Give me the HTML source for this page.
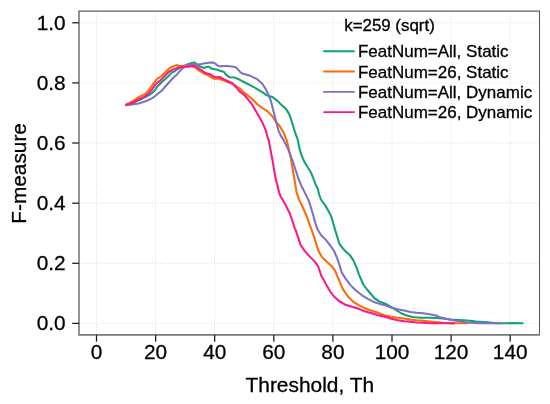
<!DOCTYPE html><html><head><meta charset="utf-8"><title>F-measure vs Threshold</title>
<style>html,body{margin:0;padding:0;background:#fff;}svg{display:block}text{font-family:"Liberation Sans",Arial,sans-serif;fill:#000;stroke:#000;stroke-width:0.3px}</style></head><body>
<svg width="550" height="404" viewBox="0 0 550 404">
<rect width="550" height="404" fill="#fff"/>
<g stroke="#dcdcdc" stroke-width="1" stroke-dasharray="1,1.7" fill="none">
<line x1="96.5" y1="11.1" x2="96.5" y2="334.9"/>
<line x1="155.6" y1="11.1" x2="155.6" y2="334.9"/>
<line x1="214.7" y1="11.1" x2="214.7" y2="334.9"/>
<line x1="273.8" y1="11.1" x2="273.8" y2="334.9"/>
<line x1="332.9" y1="11.1" x2="332.9" y2="334.9"/>
<line x1="392.0" y1="11.1" x2="392.0" y2="334.9"/>
<line x1="451.1" y1="11.1" x2="451.1" y2="334.9"/>
<line x1="510.2" y1="11.1" x2="510.2" y2="334.9"/>
<line x1="79.0" y1="323.4" x2="539.5" y2="323.4"/>
<line x1="79.0" y1="263.3" x2="539.5" y2="263.3"/>
<line x1="79.0" y1="203.2" x2="539.5" y2="203.2"/>
<line x1="79.0" y1="143.0" x2="539.5" y2="143.0"/>
<line x1="79.0" y1="82.9" x2="539.5" y2="82.9"/>
<line x1="79.0" y1="22.8" x2="539.5" y2="22.8"/>
</g>
<g fill="none" stroke-width="2.05" stroke-linejoin="round" stroke-linecap="round">
<path stroke="#12A074" d="M126.2,105.0 L132.4,103.6 L138.6,100.2 L144.8,97.4 L148.5,95.3 L152.2,92.8 L155.3,89.7 L157.2,86.6 L159.7,84.2 L162.1,81.7 L165.8,78.6 L169.6,74.9 L172.0,72.4 L175.0,71.2 L176.2,69.8 L179.3,68.0 L182.4,66.7 L185.5,65.5 L188.6,63.9 L191.7,63.0 L194.2,62.4 L196.0,63.6 L197.9,65.5 L201.0,66.7 L204.1,68.0 L207.2,66.7 L209.0,66.7 L211.5,68.6 L214.6,69.2 L217.7,69.8 L220.8,71.1 L223.7,71.7 L226.2,74.8 L229.9,77.3 L234.9,77.6 L239.8,79.8 L244.8,82.5 L251.0,85.7 L257.2,89.1 L263.4,92.8 L266.0,95.0 L272.2,96.9 L277.2,100.6 L282.1,105.5 L285.8,108.6 L288.9,113.6 L290.8,118.5 L292.7,124.7 L295.0,132.2 L297.8,140.0 L299.0,146.2 L300.9,153.6 L304.0,161.1 L307.7,167.3 L310.8,172.2 L313.3,178.4 L315.8,185.0 L317.7,188.7 L319.3,195.0 L321.2,200.0 L324.9,204.9 L328.6,211.1 L331.1,216.1 L333.0,222.3 L335.4,230.9 L337.1,236.2 L338.9,242.4 L341.0,246.2 L344.7,250.5 L349.7,254.9 L353.4,260.4 L356.5,267.3 L359.0,274.7 L361.4,280.0 L363.3,284.5 L367.1,289.5 L370.9,294.0 L374.7,298.5 L379.8,301.6 L384.9,303.5 L391.4,307.2 L397.7,311.0 L401.5,313.5 L406.6,315.5 L413.0,317.1 L420.6,317.7 L428.3,317.7 L435.9,318.0 L442.3,318.6 L451.0,319.6 L467.3,320.4 L476.4,321.5 L487.3,322.2 L494.5,323.1 L522.7,323.2"/>
<path stroke="#FF6A00" d="M126.2,104.4 L132.4,101.5 L138.6,97.2 L144.8,94.1 L148.5,90.4 L152.2,85.4 L155.3,81.1 L157.2,78.6 L159.7,77.3 L162.1,75.5 L165.8,71.8 L169.6,68.1 L172.0,66.8 L175.0,65.6 L176.2,65.1 L179.3,66.1 L182.4,65.9 L185.5,65.5 L188.6,65.9 L191.7,66.1 L194.8,67.3 L197.9,69.8 L201.0,71.7 L204.1,73.5 L207.2,74.8 L210.3,76.6 L213.4,78.7 L216.5,78.5 L219.6,79.1 L223.7,80.4 L227.4,82.0 L232.4,83.7 L236.1,86.0 L239.8,88.5 L243.5,92.2 L247.4,95.0 L252.4,99.3 L257.3,104.3 L262.3,108.0 L267.3,111.1 L272.2,116.1 L275.9,121.6 L279.7,126.0 L283.4,132.2 L285.8,138.4 L286.6,140.0 L288.5,147.4 L290.4,156.1 L292.2,166.0 L294.1,177.2 L295.4,185.0 L296.6,192.4 L299.1,199.9 L302.8,207.3 L306.6,216.0 L309.7,224.7 L311.7,230.0 L314.2,237.4 L316.6,244.9 L318.5,251.1 L321.6,256.6 L326.6,261.6 L331.5,265.9 L335.2,270.9 L337.7,277.1 L339.1,280.0 L341.0,285.1 L343.5,290.2 L348.0,296.5 L353.1,301.6 L358.2,304.8 L364.5,308.0 L370.9,310.5 L377.3,312.5 L383.6,315.0 L390.0,316.5 L397.7,317.7 L404.1,318.6 L410.5,319.5 L416.8,320.3 L423.2,320.8 L429.5,321.4 L435.9,322.1 L442.3,322.7 L448.6,323.1 L467.0,323.2"/>
<path stroke="#7B70C4" d="M126.2,105.2 L132.4,104.6 L138.6,103.4 L144.8,101.5 L148.5,100.0 L152.2,98.1 L155.3,96.0 L157.2,94.3 L159.7,92.2 L162.1,90.4 L165.8,86.0 L169.6,81.7 L172.0,79.2 L175.0,76.1 L176.2,75.4 L179.3,71.7 L182.4,68.6 L185.5,66.1 L188.6,64.9 L191.7,64.6 L194.8,64.8 L197.9,64.4 L201.0,64.1 L204.1,63.5 L207.2,62.9 L210.3,62.6 L213.4,62.6 L215.2,63.5 L217.7,65.6 L219.6,66.4 L222.7,66.0 L226.2,66.0 L232.4,66.4 L236.1,67.4 L239.8,71.7 L242.3,73.6 L246.0,74.6 L251.0,76.1 L257.2,79.2 L262.1,83.5 L265.8,89.1 L268.5,95.0 L271.0,101.2 L272.8,108.6 L274.7,116.1 L276.6,123.5 L278.4,130.3 L280.9,135.9 L283.5,140.0 L287.3,147.4 L290.4,154.9 L293.5,163.5 L295.9,171.0 L298.4,178.4 L301.0,185.0 L304.7,192.4 L308.4,199.9 L310.9,207.3 L313.4,216.0 L315.8,224.7 L317.9,230.0 L321.0,235.0 L325.9,239.9 L329.9,245.0 L334.2,251.2 L337.3,258.6 L339.8,266.0 L341.6,272.2 L345.4,278.4 L350.5,285.1 L355.6,290.2 L362.0,295.3 L368.4,299.1 L374.7,302.3 L381.1,304.2 L386.2,305.5 L391.4,307.8 L397.7,309.3 L404.1,310.6 L410.5,311.9 L416.8,312.7 L423.2,313.2 L429.5,314.2 L435.9,315.5 L440.0,317.3 L447.3,319.1 L454.5,320.4 L461.8,321.8 L469.0,322.7 L476.4,323.1 L501.8,323.2"/>
<path stroke="#FF1588" d="M126.2,104.9 L132.4,102.8 L138.6,99.4 L144.8,96.6 L148.5,93.5 L152.2,89.1 L155.3,84.8 L157.2,82.9 L159.7,81.1 L162.1,78.6 L165.8,74.9 L169.6,71.2 L172.0,70.2 L175.0,68.7 L176.2,68.6 L179.3,67.6 L182.4,66.7 L185.5,66.7 L188.6,66.7 L191.7,66.1 L194.8,66.1 L197.9,68.0 L201.0,69.8 L204.1,72.3 L207.2,73.5 L210.3,74.2 L213.4,76.6 L216.5,77.3 L219.6,77.0 L223.7,79.2 L227.4,81.0 L232.4,83.3 L236.1,87.2 L239.8,91.6 L244.3,95.0 L247.4,98.7 L252.4,104.9 L257.3,113.6 L262.3,122.3 L266.0,130.9 L267.9,138.4 L268.7,140.0 L270.5,149.9 L272.4,159.8 L274.3,171.0 L276.1,180.9 L277.4,185.0 L278.7,191.2 L280.5,196.2 L284.9,203.6 L289.8,213.5 L292.9,222.2 L294.8,228.4 L295.6,230.0 L298.1,237.4 L300.5,244.9 L304.9,251.1 L309.8,256.6 L314.8,261.6 L317.9,265.9 L319.7,270.9 L321.6,276.5 L323.8,280.0 L326.4,285.1 L330.2,291.5 L334.0,296.5 L339.1,301.0 L345.5,304.8 L351.8,306.7 L358.2,308.6 L364.5,311.2 L370.9,313.1 L377.3,315.0 L383.6,316.5 L387.5,317.6 L391.4,318.7 L397.7,320.2 L404.1,321.2 L410.5,321.8 L416.8,322.5 L423.2,322.8 L429.5,323.2 L454.2,323.2"/>
</g>
<path d="M79.0,11.1 H539.5 V334.9" fill="none" stroke="#5c5c5c" stroke-width="1.05"/>
<path d="M79.0,10.6 V334.9 H540.0" fill="none" stroke="#787878" stroke-width="1.6"/>
<g stroke="#1a1a1a" stroke-width="1.25">
<line x1="96.5" y1="334.9" x2="96.5" y2="341.7"/>
<line x1="155.6" y1="334.9" x2="155.6" y2="341.7"/>
<line x1="214.7" y1="334.9" x2="214.7" y2="341.7"/>
<line x1="273.8" y1="334.9" x2="273.8" y2="341.7"/>
<line x1="332.9" y1="334.9" x2="332.9" y2="341.7"/>
<line x1="392.0" y1="334.9" x2="392.0" y2="341.7"/>
<line x1="451.1" y1="334.9" x2="451.1" y2="341.7"/>
<line x1="510.2" y1="334.9" x2="510.2" y2="341.7"/>
<line x1="72.2" y1="323.4" x2="79.0" y2="323.4"/>
<line x1="72.2" y1="263.3" x2="79.0" y2="263.3"/>
<line x1="72.2" y1="203.2" x2="79.0" y2="203.2"/>
<line x1="72.2" y1="143.0" x2="79.0" y2="143.0"/>
<line x1="72.2" y1="82.9" x2="79.0" y2="82.9"/>
<line x1="72.2" y1="22.8" x2="79.0" y2="22.8"/>
</g>
<g font-size="20.8" text-anchor="middle">
<text x="96.5" y="359.3">0</text>
<text x="155.6" y="359.3">20</text>
<text x="214.7" y="359.3">40</text>
<text x="273.8" y="359.3">60</text>
<text x="332.9" y="359.3">80</text>
<text x="392.0" y="359.3">100</text>
<text x="451.1" y="359.3">120</text>
<text x="510.2" y="359.3">140</text>
</g>
<g font-size="20.8" text-anchor="end">
<text x="65.7" y="330.4">0.0</text>
<text x="65.7" y="270.3">0.2</text>
<text x="65.7" y="210.2">0.4</text>
<text x="65.7" y="150.0">0.6</text>
<text x="65.7" y="89.9">0.8</text>
<text x="65.7" y="29.8">1.0</text>
</g>
<text x="309.8" y="392.3" font-size="20.9" text-anchor="middle">Threshold, Th</text>
<text transform="translate(26.2,173.4) rotate(-90)" font-size="20.8" text-anchor="middle">F-measure</text>
<text x="344.2" y="31.2" font-size="16.9">k=259 (sqrt)</text>
<g stroke-width="1.9" stroke-linecap="round">
<line x1="324" y1="51.2" x2="354.0" y2="51.2" stroke="#12A074"/>
<line x1="324" y1="71.5" x2="354.0" y2="71.5" stroke="#FF6A00"/>
<line x1="324" y1="91.9" x2="354.0" y2="91.9" stroke="#7B70C4"/>
<line x1="324" y1="112.1" x2="354.0" y2="112.1" stroke="#FF1588"/>
</g>
<g font-size="17.0">
<text x="357.9" y="57.3">FeatNum=All, Static</text>
<text x="357.9" y="77.6">FeatNum=26, Static</text>
<text x="357.9" y="98.0">FeatNum=All, Dynamic</text>
<text x="357.9" y="118.2">FeatNum=26, Dynamic</text>
</g>
</svg></body></html>
